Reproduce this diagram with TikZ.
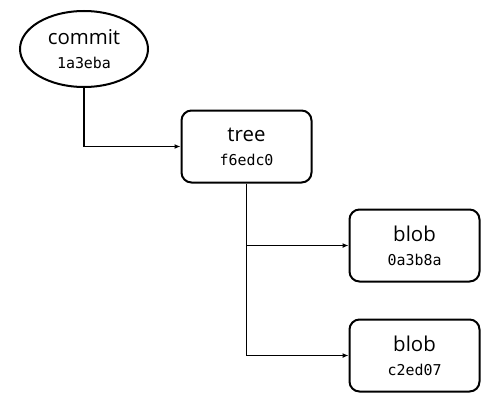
\documentclass[tikz,border=0pt]{standalone}
\usepackage{fontspec}
\setmainfont{Open Sans}
\setmonofont{DejaVu Sans Mono}
\usetikzlibrary{calc}
\usetikzlibrary{shapes}
\usetikzlibrary{arrows.meta}
\tikzset{>={Latex[length=6bp,width=5bp]}}
\tikzset{object/.style={draw, line width=2bp, align=center, inner sep=0pt,
    font=\fontsize{20.5}{24}\selectfont}}
\tikzset{commit/.style={object, ellipse, minimum width=128bp, minimum height=76bp}}
\tikzset{tree/.style={object, rectangle, rounded corners=10bp, minimum width=130bp, minimum height=72bp}}
\tikzset{blob/.style={tree}}
\tikzset{link/.style={line width=1.8bp, ->}}
\newcommand{\objid}[1]{{\fontsize{15}{24}\selectfont\ttfamily #1}}

\begin{document}
\begin{tikzpicture}[x=1bp, y=1bp]

    \useasboundingbox (0,0) rectangle (492,407);

    % Commit, tree and blobs.
    \node [commit] (commit1) at (84,358) {commit\\\objid{1a3eba}};
    \node [tree] (tree1) at ($(commit1.center) + (162.5bp,-97.5bp)$) {tree\\\objid{f6edc0}};
    \node [blob] (blob1) at ($(tree1.center) + (168bp,-99bp)$) {blob\\\objid{0a3b8a}};
    \node [blob] (blob2) at ($(blob1.center) - (0,110bp)$) {blob\\\objid{c2ed07}};

    % Lines from commit to tree and from tree to blobs.
    \draw [link] (commit1.south) |- (tree1.west);
    \draw [link] (tree1.south) |- (blob1.west);
    \draw [link] (tree1.south) |- (blob2.west);

\end{tikzpicture}
\end{document}
